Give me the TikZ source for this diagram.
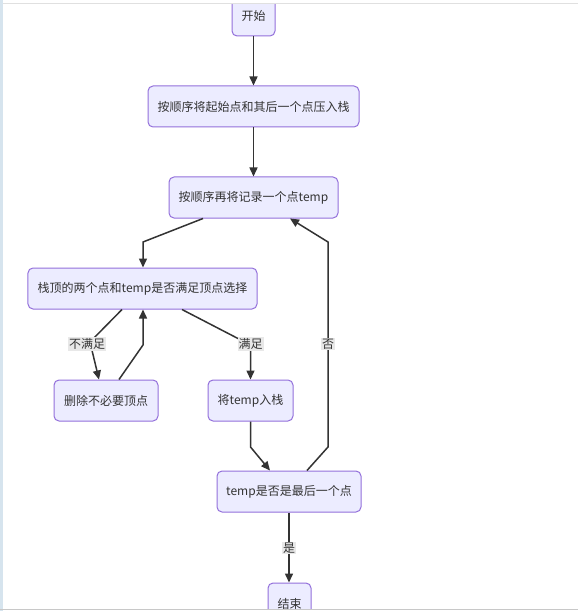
\documentclass[tikz,border=0pt]{standalone}
\usepackage{fontspec}
\setmainfont{Noto Sans CJK SC}
\usetikzlibrary{arrows.meta,calc}
\definecolor{boxfill}{HTML}{ECECFF}
\definecolor{boxline}{HTML}{9370DB}
\definecolor{ink}{HTML}{333333}
\definecolor{lblbg}{HTML}{E8E8E8}
\definecolor{stripc}{HTML}{D6E4EE}
\definecolor{topline}{HTML}{E0E0E0}
\definecolor{botline}{HTML}{C8C8C8}
\tikzset{
  box/.style={draw=boxline, fill=boxfill, line width=1bp, rounded corners=5bp,
    minimum height=41bp, inner sep=0pt, text=ink, font=\fontsize{12bp}{14bp}\selectfont},
  flow/.style={draw=ink, line width=1.5bp, -{Triangle[length=9bp,width=8bp]}},
  lbl/.style={fill=lblbg, inner sep=1bp, text=ink, font=\fontsize{12bp}{14bp}\selectfont}
}
\begin{document}
\begin{tikzpicture}[x=1bp,y=-1bp]
\useasboundingbox (0,0) rectangle (578,611);
\fill[white] (0,0) rectangle (578,611);
\fill[stripc] (0,0) rectangle (3,611);
\begin{scope}
\clip (0,5) rectangle (578,609);
\node[box, minimum width=43bp]  (n1) at (253.5,15.5)  {开始};
\node[box, minimum width=211bp] (n2) at (253.5,106.5) {按顺序将起始点和其后一个点压入栈};
\node[box, minimum width=169bp] (n3) at (253.5,197.5) {按顺序再将记录一个点temp};
\node[box, minimum width=229bp] (n4) at (142.5,288.5) {栈顶的两个点和temp是否满足顶点选择};
\node[box, minimum width=104bp] (n5) at (106,400.5)   {删除不必要顶点};
\node[box, minimum width=85bp]  (n6) at (250.5,400.5) {将temp入栈};
\node[box, minimum width=144bp] (n7) at (289,491.5)   {temp是否是最后一个点};
\node[box, minimum width=43bp]  (n8) at (289.5,603.5) {结束};
\end{scope}
\fill[topline] (3,3.5) rectangle (578,4.5);
\fill[botline] (0,609) rectangle (578,610);

\coordinate (c34) at (143,242);
\coordinate (c45) at (90,342);
\coordinate (c54) at (143,345);
\coordinate (c46) at (250.5,345);
\coordinate (c67) at (250.5,447);
\coordinate (c73a) at (328,447);
\coordinate (c73b) at (328,242);

\draw[flow] (n1.south) -- (n2.north);
\draw[flow] (n2.south) -- (n3.north);
\draw[flow] ([xshift=-50.5bp]n3.south) -- (c34) -- (n4.north -| c34);
\draw[flow] ([xshift=-20.5bp]n4.south) -- (c45) -- ([xshift=-7bp]n5.north);
\draw[flow] ([xshift=13bp]n5.north) -- (c54) -- (n4.south -| c54);
\draw[flow] ([xshift=39.5bp]n4.south) -- (c46) -- (n6.north);
\draw[flow] (n6.south) -- (c67) -- ([xshift=-19bp]n7.north);
\draw[flow] ([xshift=18bp]n7.north) -- (c73a) -- (c73b) -- ([xshift=36.5bp]n3.south);
\draw[flow] (n7.south) -- (n8.north -| n7.south);

\node[lbl] (l1) at (87,344)    {不满足};
\node[lbl] (l2) at (250.5,344) {满足};
\node[lbl] (l3) at (328,344)   {否};
\node[lbl] (l4) at (289,548)   {是};
\end{tikzpicture}
\end{document}
